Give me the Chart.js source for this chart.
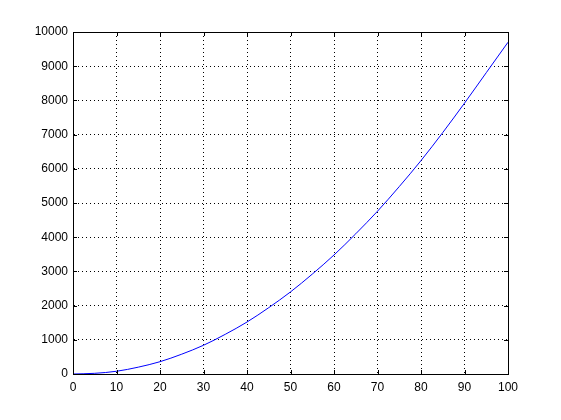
<!DOCTYPE html>
<html>
<head>
<meta charset="utf-8">
<script src="https://cdn.jsdelivr.net/npm/chart.js@4"></script>
<style>
  html, body { margin: 0; padding: 0; background: #fff; }
  canvas { display: block; }
</style>
</head>
<body>
<canvas id="plot" width="561" height="420"></canvas>
<script>
// values, every 5 units along x
const xValues = [0, 5, 10, 15, 20, 25, 30, 35, 40, 45, 50, 55, 60, 65, 70, 75, 80, 85, 90, 95, 100];
const yValues = [0, 20, 80, 200, 360, 580, 840, 1160, 1520, 1940, 2400, 2920, 3480, 4100, 4760, 5480, 6240, 7060, 7920, 8810, 9700];
const xTicks = [0, 10, 20, 30, 40, 50, 60, 70, 80, 90, 100];
const yTicks = [0, 1000, 2000, 3000, 4000, 5000, 6000, 7000, 8000, 9000, 10000];

const points = xValues.map((x, i) => ({ x, y: yValues[i] }));

// MATLAB style: full box and ticks pointing inward on all four sides
const boxTicks = {
  id: "boxTicks",
  afterDraw(chart) {
    const { ctx, chartArea: a, scales } = chart;
    const len = 4;
    ctx.save();
    ctx.strokeStyle = "#000";
    ctx.lineWidth = 1;
    ctx.beginPath();
    xTicks.forEach(v => {
      const px = Math.round(scales.x.getPixelForValue(v)) + 0.5;
      ctx.moveTo(px, a.bottom); ctx.lineTo(px, a.bottom - len);
      ctx.moveTo(px, a.top); ctx.lineTo(px, a.top + len);
    });
    yTicks.forEach(v => {
      const py = Math.round(scales.y.getPixelForValue(v)) + 0.5;
      ctx.moveTo(a.left, py); ctx.lineTo(a.left + len, py);
      ctx.moveTo(a.right, py); ctx.lineTo(a.right - len, py);
    });
    ctx.stroke();
    ctx.strokeRect(Math.round(a.left) + 0.5, Math.round(a.top) + 0.5,
      Math.round(a.right - a.left), Math.round(a.bottom - a.top));
    ctx.restore();
  }
};

const tickFont = { family: "'Liberation Sans', Arial, Helvetica, sans-serif", size: 12 };
const plain = v => String(v);

new Chart(document.getElementById("plot"), {
  type: "line",
  data: {
    datasets: [{
      data: points,
      borderColor: "#0000ff",
      borderWidth: 1,
      pointRadius: 0,
      fill: false,
      cubicInterpolationMode: "monotone"
    }]
  },
  options: {
    responsive: false,
    animation: false,
    devicePixelRatio: 1,
    layout: { padding: { top: 32, right: 53, left: 0, bottom: 0 } },
    plugins: { legend: { display: false }, tooltip: { enabled: false } },
    scales: {
      x: {
        type: "linear",
        min: 0,
        max: 100,
        afterBuildTicks: s => { s.ticks = xTicks.map(v => ({ value: v })); },
        afterFit: s => { s.height = 46; },
        grid: { color: "#000", lineWidth: 1, drawTicks: false },
        border: { color: "#000", dash: [1, 3] },
        ticks: { color: "#000", font: tickFont, padding: 6, maxRotation: 0, autoSkip: false, callback: plain }
      },
      y: {
        min: 0,
        max: 10000,
        afterBuildTicks: s => { s.ticks = yTicks.map(v => ({ value: v })); },
        afterFit: s => { s.width = 73; },
        grid: { color: "#000", lineWidth: 1, drawTicks: false },
        border: { color: "#000", dash: [1, 3] },
        ticks: { color: "#000", font: tickFont, padding: 5, autoSkip: false, callback: plain }
      }
    }
  },
  plugins: [boxTicks]
});
</script>
</body>
</html>
